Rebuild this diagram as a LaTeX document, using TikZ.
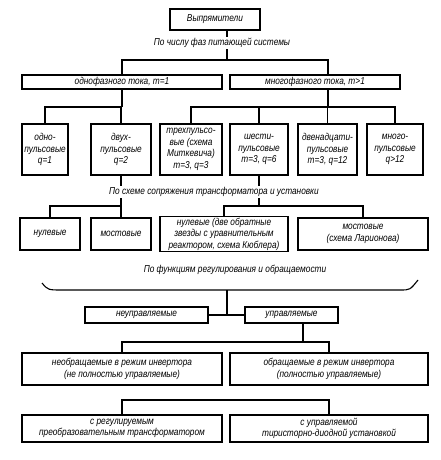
\documentclass[tikz,border=0pt]{standalone}
\usepackage{fontspec}
\newfontfamily\gostfam[FakeStretch=0.83]{Liberation Sans}
\newcommand\gostfont{\gostfam\itshape\fontsize{10}{11.5}\selectfont}
\begin{document}
\begin{tikzpicture}[x=1pt,y=-1pt,
  box/.style={draw, line width=1.1pt, inner sep=1pt, align=center, font=\gostfont},
  lbl/.style={inner sep=1pt, font=\gostfont},
  every path/.style={line width=1.1pt}]
\useasboundingbox (0,0) rectangle (441,460);
% boxes
\node[box, minimum width=90pt, minimum height=21pt] (top) at (215,19.5) {Выпрямители};
\node[lbl] (L1) at (222,43) {По числу фаз питающей системы};
\node[box, minimum width=200pt, minimum height=14pt] (r2a) at (122,82) {однофазного тока, m=1};
\node[box, minimum width=170pt, minimum height=14pt] (r2b) at (315,82) {многофазного тока, m>1};
% row 3
\node[box, minimum width=46pt, minimum height=51pt] (r3a) at (45,149.5) {одно-\\пульсовые\\q=1};
\node[box, minimum width=60pt, minimum height=51pt] (r3b) at (121,149.5) {двух-\\пульсовые\\q=2};
\node[box, minimum width=62pt, minimum height=51pt] (r3c) at (191,149.5) {трехпульсо-\\вые (схема\\Миткевича)\\m=3, q=3};
\node[box, minimum width=58pt, minimum height=51pt] (r3d) at (259,149.5) {шести-\\пульсовые\\m=3, q=6};
\node[box, minimum width=59pt, minimum height=51pt] (r3e) at (327.5,149.5) {двенадцати-\\пульсовые\\m=3, q=12};
\node[box, minimum width=56pt, minimum height=51pt] (r3f) at (395,149.5) {много-\\пульсовые\\q>12};
\node[lbl] (L2) at (214,192) {По схеме сопряжения трансформатора и установки};
% row 4
\node[box, minimum width=60pt, minimum height=32pt] (r4a) at (50,234) {нулевые};
\node[box, minimum width=60pt, minimum height=32pt] (r4b) at (121,234) {мостовые};
\node[box, minimum width=128pt, minimum height=32pt] (r4c) at (224,234) {нулевые (две обратные\\звезды с уравнительным\\реактором, схема Кюблера)};
\node[box, minimum width=130pt, minimum height=32pt] (r4d) at (363,234) {мостовые\\(схема Ларионова)};
\node[lbl] (L3) at (235,270) {По функциям регулирования и обращаемости};
% row 5
\node[box, minimum width=123pt, minimum height=16pt] (r5a) at (146.5,315) {неуправляемые};
\node[box, minimum width=93pt, minimum height=16pt] (r5b) at (291.5,315) {управляемые};
% row 6
\node[box, minimum width=200pt, minimum height=32pt] (r6a) at (122,369) {необращаемые в режим инвертора\\(не полностью управляемые)};
\node[box, minimum width=198pt, minimum height=32pt] (r6b) at (329,369) {обращаемые в режим инвертора\\(полностью управляемые)};
% row 7
\node[box, minimum width=200pt, minimum height=27pt] (r7a) at (122,428.5) {с регулируемым\\преобразовательным трансформатором};
\node[box, minimum width=198pt, minimum height=27pt] (r7b) at (329,428.5) {с управляемой\\тиристорно-диодной установкой};
% junction coordinates
\coordinate (j1) at (227,60);
\coordinate (j1r) at (328,60);
\coordinate (h3) at (0,107);
\coordinate (h4) at (0,206);
\coordinate (v4) at (259,0);
\coordinate (bl) at (42,283);
\coordinate (bl2) at (62,290);
\coordinate (bc) at (227,290);
\coordinate (br2) at (400,290);
\coordinate (br) at (418,280);
\coordinate (h6) at (0,342);
\coordinate (v6) at (303,0);
\coordinate (h7) at (0,400);
% connectors
\draw (top.south -| j1) -- (L1.north -| j1);
\draw (L1.south -| j1) -- (j1);
\draw (r2a.north) |- (j1r) -- (j1r |- r2b.north);
\draw (r2a.south) -- (r2a.south |- h3);
\draw (r3a.north) |- (r3b.north |- h3) -- (r3b.north);
\draw (r2a.south |- h3) -- (r3b.north |- h3);
\draw (j1r |- r2b.south) -- (j1r |- h3);
\draw (r3c.north) |- (r3f.north |- h3) -- (r3f.north);
\draw (r3d.north) -- (r3d.north |- h3);
\draw (r3e.north) -- (r3e.north |- h3);
\draw (r3b.south) -- (L2.north -| r3b);
\draw (r3d.south) -- (L2.north -| r3d);
\draw (L2.south -| r3b) -- (r3b |- h4);
\draw (r4a.north) |- (r4b.north |- h4) -- (r4b.north);
\draw (L2.south -| v4) -- (v4 |- h4);
\draw (r4c.north) |- (r4d.north |- h4) -- (r4d.north);
\draw (bl) .. controls (48,290) .. (bl2) -- (br2) .. controls (410,290) .. (br);
\draw (bc) -- (bc |- r5a.east);
\draw (r5a.east) -- (r5b.west);
\draw (r5b.south -| v6) -- (v6 |- h6);
\draw (r6a.north) |- (r6b.north |- h6) -- (r6b.north);
\draw (r7a.north) |- (r7b.north |- h7) -- (r7b.north);
\end{tikzpicture}
\end{document}
